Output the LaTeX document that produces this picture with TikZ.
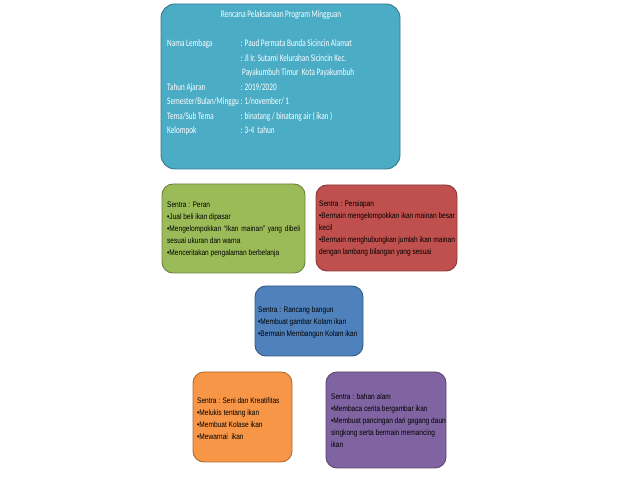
\documentclass[tikz,border=0pt]{standalone}
\usepackage{fontspec}
\newfontfamily\calib[FakeStretch=0.72]{Carlito}
\newfontfamily\narrowsans[FakeStretch=0.82]{Liberation Sans}
\definecolor{planblue}{HTML}{4BACC6}
\definecolor{perangreen}{HTML}{9BBB59}
\definecolor{siapred}{HTML}{C0504D}
\definecolor{rancangblue}{HTML}{4F81BD}
\definecolor{seniorange}{HTML}{F79646}
\definecolor{alampurple}{HTML}{8064A2}
\tikzset{
  box/.style={draw=#1!70!black,fill=#1,line width=0.9pt,rounded corners=11pt,inner sep=0pt},
  sentra/.style={anchor=north west,inner sep=0pt,align=left,font=\narrowsans\fontsize{8}{12}\selectfont},
}
\begin{document}
\begin{tikzpicture}[x=1pt,y=-1pt]
\useasboundingbox (0,0) rectangle (638,478);

% rencana
\node[box=planblue,minimum width=239pt,minimum height=165pt,rounded corners=14pt] (plan) at (280.5,86.5) {};
\node[white,font=\calib\fontsize{10}{14.5}\selectfont] (planTitle) at (281,15) {Rencana Pelaksanaan Program Mingguan};
\node[white,anchor=north west,inner sep=0pt,font=\calib\fontsize{10}{14.5}\selectfont] (planData) at (167,36.5) {%
\begin{tabular}{@{}l@{\,}l@{}}
Nama Lembaga & : Paud Permata Bunda Sicincin Alamat\\
 & : Jl Ir. Sutami Kelurahan Sicincin Kec.\\
 & \ Payakumbuh Timur\ \ Kota Payakumbuh\\
Tahun Ajaran & : 2019/2020\\
Semester/Bulan/Minggu & : 1/november/ 1\\
Tema/Sub Tema & : binatang / binatang air ( ikan )\\
Kelompok & : 3-4\ \ tahun
\end{tabular}};

% sentra
\node[box=perangreen,minimum width=143pt,minimum height=89pt] (peran) at (233.5,228.5) {};
\node[sentra] (peranText) at (167,202) {Sentra : Peran\\
•Jual beli ikan dipasar\\
\makebox[133pt][s]{•Mengelompokkan “Ikan mainan” yang dibeli}\\
sesuai ukuran dan warna\\
•Menceritakan pengalaman berbelanja};

\node[box=siapred,minimum width=141pt,minimum height=86pt] (siap) at (386.5,228) {};
\node[sentra] (siapText) at (319,201) {Sentra : Persiapan\\
•Bermain mengelompokkan ikan mainan besar\\
kecil\\
•Bermain menghubungkan jumlah ikan mainan\\
dengan lambang bilangan yang sesuai};

\node[box=rancangblue,minimum width=108pt,minimum height=70pt] (rancang) at (309,321) {};
\node[sentra] (rancangText) at (258,307) {Sentra : Rancang bangun\\
•Membuat gambar Kolam ikan\\
•Bermain Membangun Kolam ikan};

\node[box=seniorange,minimum width=99pt,minimum height=90pt] (seni) at (242.5,417) {};
\node[sentra] (seniText) at (197,398) {Sentra : Seni dan Kreatifitas\\
•Melukis tentang ikan\\
•Membuat Kolase ikan\\
•Mewarnai\ \ ikan};

\node[box=alampurple,minimum width=120pt,minimum height=96pt] (alam) at (386,420) {};
\node[sentra] (alamText) at (331,394) {Sentra : bahan alam\\
•Membaca cerita bergambar ikan\\
•Membuat pancingan dari gagang daun\\
singkong serta bermain memancing\\
ikan};

\end{tikzpicture}
\end{document}
